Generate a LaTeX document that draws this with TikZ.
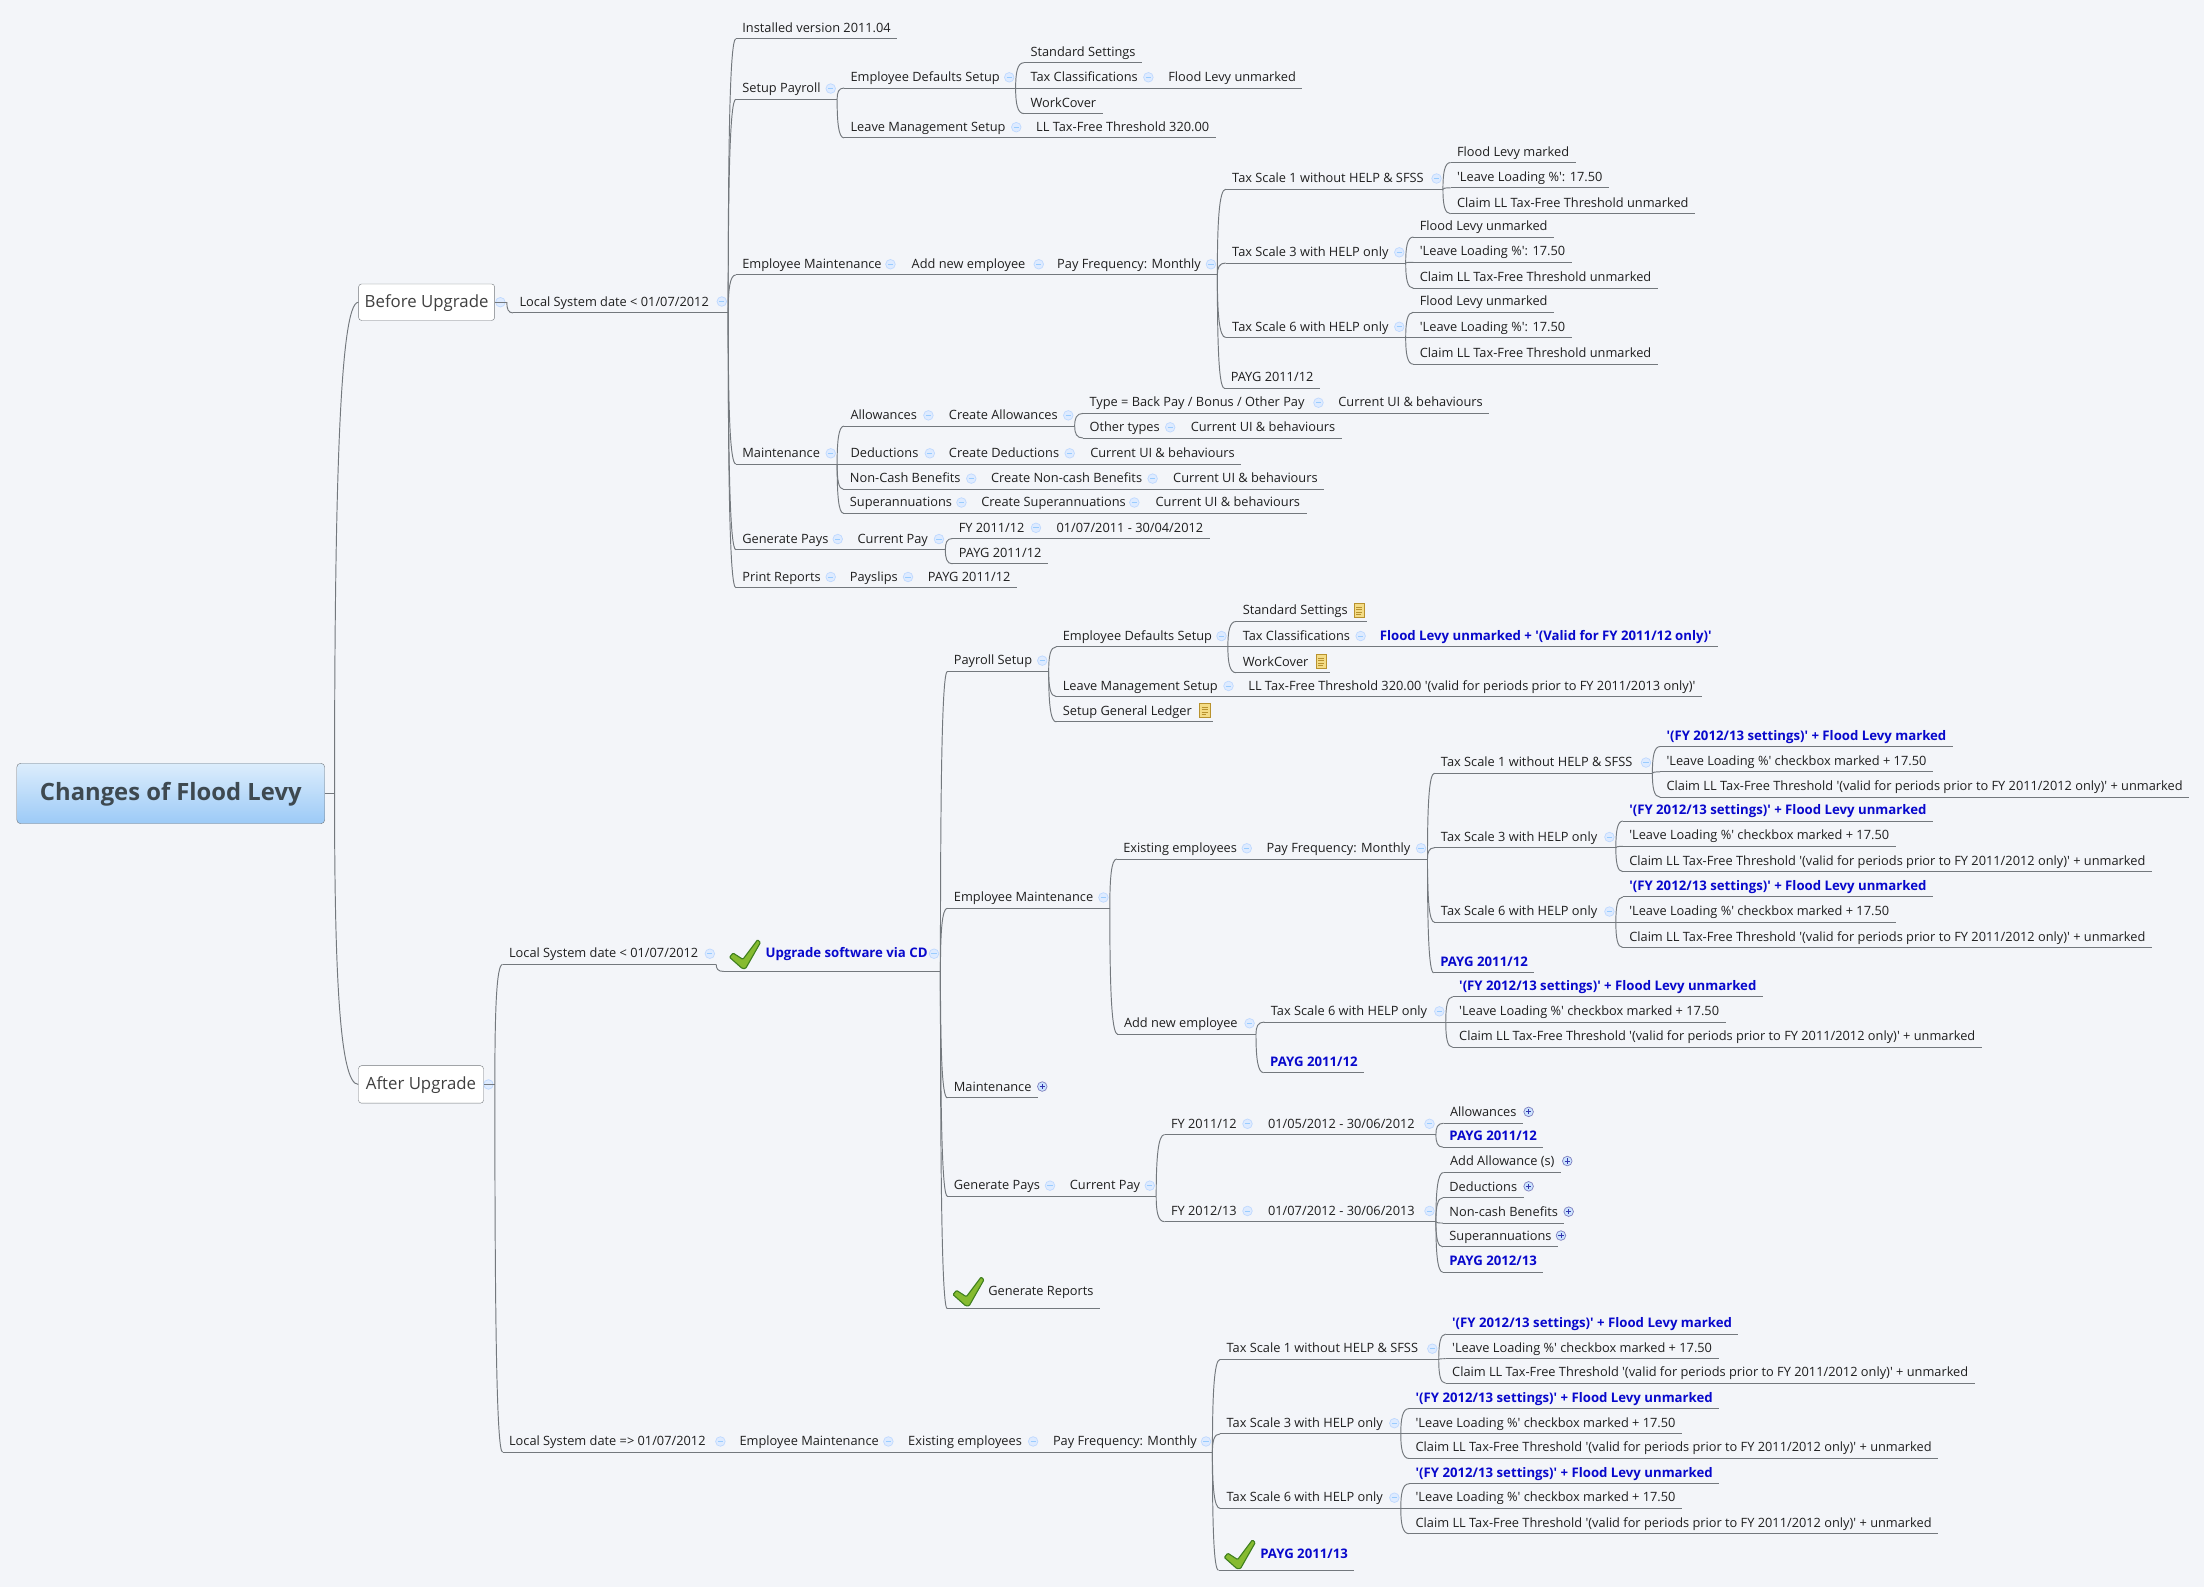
\documentclass[tikz,border=0pt]{standalone}
\usepackage{fontspec}
\setmainfont{Open Sans}[Ligatures=TeXOff]
\usetikzlibrary{calc}
\definecolor{paper}{HTML}{F3F5F9}
\definecolor{twig}{HTML}{73787D}
\definecolor{hotblue}{HTML}{0808CC}
\definecolor{rootink}{HTML}{3E4950}
\definecolor{roottop}{HTML}{DCEDFC}
\definecolor{rootbot}{HTML}{9CCAF7}
\definecolor{tickfill}{HTML}{86BB30}
\definecolor{tickedge}{HTML}{3F7F1E}
\definecolor{notefill}{HTML}{F4DC86}
\definecolor{noteedge}{HTML}{B8922E}
\tikzset{
topic/.style={
		font=\fontsize{12.8}{15}\selectfont,
		text=black!88,
		inner xsep=6.3pt,
		inner ysep=0pt,
		text height=12pt,
		text depth=2.2pt,
		minimum height=22.4pt,
		anchor=west,
		xshift=-6.3pt
	},
hottopic/.style={
		topic,
		font=\fontsize{13.2}{15}\selectfont\bfseries,
		text=hotblue
	},
bigbox/.style={
		draw=twig,
		fill=white,
		rounded corners=3pt,
		font=\fontsize{16.8}{20}\selectfont,
		text=black!75,
		text height=14pt,
		text depth=3pt,
		inner sep=0pt
	},
twigline/.style={draw=twig,line width=.95pt},
fork/.style={
		to path={let \p1=(\tikztostart),\p2=(\tikztotarget) in
			.. controls (\x1,{\y1+.6*(\y2-\y1)}) and ({\x1+.2*(\x2-\x1)},\y2) .. (\tikztotarget)}
	},
minus/.style={
		circle,
		draw=blue!60!cyan!25,
		fill=blue!60!cyan!13,
		line width=.7pt,
		minimum size=9.6pt,
		inner sep=0pt,
		outer sep=1.6pt,
		path picture={\draw[blue!50!cyan!40,line width=.8pt] ([xshift=-2.6pt]path picture bounding box.center) -- ([xshift=2.6pt]path picture bounding box.center);}
	},
plus/.style={
		circle,
		draw=blue!50!black!50,
		fill=blue!50!cyan!20,
		line width=.7pt,
		minimum size=9.6pt,
		inner sep=0pt,
		outer sep=1.6pt,
		path picture={\draw[blue!60!black!80,line width=.8pt]
			([xshift=-2.6pt]path picture bounding box.center) -- ([xshift=2.6pt]path picture bounding box.center)
			([yshift=-2.6pt]path picture bounding box.center) -- ([yshift=2.6pt]path picture bounding box.center);}
	},
notepad/.style={
		rectangle,
		draw=noteedge,
		fill=notefill,
		line width=.7pt,
		minimum width=10.5pt,
		minimum height=14pt,
		inner sep=0pt,
		outer sep=3pt,
		path picture={\draw[noteedge,line width=.7pt,shift={(path picture bounding box.center)}]
			(-3pt,3.5pt) -- (3pt,3.5pt) (-3pt,1pt) -- (3pt,1pt) (-3pt,-1.5pt) -- (3pt,-1.5pt) (-3pt,-4pt) -- (1.5pt,-4pt);}
	},
tick/.style={
		rectangle,
		inner sep=0pt,
		minimum width=42pt,
		minimum height=36pt,
		path picture={\filldraw[shift={(path picture bounding box.center)},draw=tickedge,fill=tickfill,line width=1.1pt,rounded corners=1pt]
			(9,-10.5) -- (11,-8.5) -- (.5,10) -- (-2,10) -- (-11,2) -- (-8.5,-1) -- (-1.5,3.5) -- cycle;}
	}
}

\begin{document}
\begin{tikzpicture}[x=1.4056pt,y=-1.4056pt]
\useasboundingbox[fill=paper] (0,0) rectangle (1568,1129);

% the three big boxes
\node[draw=twig,rounded corners=4pt,top color=roottop,bottom color=rootbot,minimum width=308pt,minimum height=60.5pt,font=\fontsize{23.8}{26}\selectfont\bfseries,text=rootink,text height=18.5pt,text depth=4.5pt] (root) at (121.5,564.5) {Changes of Flood Levy};
\coordinate (rootfork) at (238,564.5);
\node[bigbox,minimum width=136pt,minimum height=36.5pt] (before) at (303.5,215) {Before Upgrade};
\node[minus] (before-i) at (356,215) {};
\node[bigbox,minimum width=125pt,minimum height=37.5pt] (after) at (299.5,771.5) {After Upgrade};
\node[minus] (after-i) at (347.5,771.5) {};

% before upgrade
\node[topic] (lsdb) at (369.5,214.5) {Local System date < 01/07/2012};
\node[minus] (lsdb-i) at (513.5,214.5) {};
\node[topic] (inst) at (528,19.5) {Installed version 2011.04};
\node[topic] (setup) at (528,62.5) {Setup Payroll};
\node[minus] (setup-i) at (591,63) {};
\node[topic] (empdef) at (605,54.5) {Employee Defaults Setup};
\node[minus] (empdef-i) at (718,55) {};
\node[topic] (stdset) at (733,36.5) {Standard Settings};
\node[topic] (taxcl) at (733,54.5) {Tax Classifications};
\node[minus] (taxcl-i) at (817,55) {};
\node[topic] (fluA) at (831,54.5) {Flood Levy unmarked};
\node[topic] (wc) at (733,72.7) {WorkCover};
\node[topic] (leave) at (605,90) {Leave Management Setup};
\node[minus] (leave-i) at (723,90.5) {};
\node[topic] (lltA) at (737,90) {LL Tax-Free Threshold 320.00};
\node[topic] (empm) at (528,187.5) {Employee Maintenance};
\node[minus] (empm-i) at (633.5,188) {};
\node[topic] (addnew) at (648.5,187.5) {Add new employee};
\node[minus] (addnew-i) at (739,188) {};
\node[topic] (payf) at (752,187.5) {Pay Frequency: Monthly};
\node[minus] (payf-i) at (861.5,188) {};
\node[topic] (tsa) at (876.5,126.5) {Tax Scale 1 without HELP \& SFSS};
\node[minus] (tsa-i) at (1022,127) {};
\node[topic] (fma) at (1036.5,107.5) {Flood Levy marked};
\node[topic] (lla) at (1036.5,125.5) {'Leave Loading \%': 17.50};
\node[topic] (cla) at (1036.5,144) {Claim LL Tax-Free Threshold unmarked};
\node[topic] (tsb) at (876.5,179) {Tax Scale 3 with HELP only};
\node[minus] (tsb-i) at (995.5,179.5) {};
\node[topic] (fub) at (1010,160.5) {Flood Levy unmarked};
\node[topic] (llb) at (1010,178.5) {'Leave Loading \%': 17.50};
\node[topic] (clb) at (1010,197) {Claim LL Tax-Free Threshold unmarked};
\node[topic] (tsc) at (876.5,232) {Tax Scale 6 with HELP only};
\node[minus] (tsc-i) at (995.5,232.5) {};
\node[topic] (fuc) at (1010,214) {Flood Levy unmarked};
\node[topic] (llc) at (1010,232) {'Leave Loading \%': 17.50};
\node[topic] (clc) at (1010,251) {Claim LL Tax-Free Threshold unmarked};
\node[topic] (paygA) at (875.5,268) {PAYG 2011/12};
\node[topic] (maint) at (528,322) {Maintenance};
\node[minus] (maint-i) at (591,322.5) {};
\node[topic] (allow) at (605,295) {Allowances};
\node[minus] (allow-i) at (660.5,295.5) {};
\node[topic] (crallow) at (675,295) {Create Allowances};
\node[minus] (crallow-i) at (760,295.5) {};
\node[topic] (typeb) at (775,286) {Type = Back Pay / Bonus / Other Pay};
\node[minus] (typeb-i) at (938,286.5) {};
\node[topic] (cuia) at (952,286) {Current UI \& behaviours};
\node[topic] (other) at (775,303.5) {Other types};
\node[minus] (other-i) at (832.5,304) {};
\node[topic] (cuib) at (847,303.5) {Current UI \& behaviours};
\node[topic] (ded) at (605,322) {Deductions};
\node[minus] (ded-i) at (661.5,322.5) {};
\node[topic] (crded) at (675,322) {Create Deductions};
\node[minus] (crded-i) at (761,322.5) {};
\node[topic] (cuic) at (775.5,322) {Current UI \& behaviours};
\node[topic] (noncash) at (604.5,340) {Non-Cash Benefits};
\node[minus] (noncash-i) at (691,340.5) {};
\node[topic] (crnon) at (705,340) {Create Non-cash Benefits};
\node[minus] (crnon-i) at (820,340.5) {};
\node[topic] (cuid) at (834.5,340) {Current UI \& behaviours};
\node[topic] (super) at (604.5,357) {Superannuations};
\node[minus] (super-i) at (684,357.5) {};
\node[topic] (crsuper) at (698,357) {Create Superannuations};
\node[minus] (crsuper-i) at (807,357.5) {};
\node[topic] (cuie) at (822,357) {Current UI \& behaviours};
\node[topic] (genp) at (528,383) {Generate Pays};
\node[minus] (genp-i) at (596,383.5) {};
\node[topic] (curp) at (610,383) {Current Pay};
\node[minus] (curp-i) at (668,383.5) {};
\node[topic] (fyA) at (682,375) {FY 2011/12};
\node[minus] (fyA-i) at (737,375.5) {};
\node[topic] (datesA) at (751.5,375) {01/07/2011 - 30/04/2012};
\node[topic] (paygB) at (682,393) {PAYG 2011/12};
\node[topic] (print) at (528,410) {Print Reports};
\node[minus] (print-i) at (591,410.5) {};
\node[topic] (slips) at (604.5,410) {Payslips};
\node[minus] (slips-i) at (646,410.5) {};
\node[topic] (paygC) at (660,410) {PAYG 2011/12};

% after upgrade, system date before the cut
\node[topic] (lsda) at (362,678) {Local System date < 01/07/2012};
\node[minus] (lsda-i) at (505,678.5) {};
\node[tick] (upg-i) at (530,679) {};
\node[hottopic,minimum height=36.5pt] (upg) at (544.5,678) {Upgrade software via CD};
\node[minus] (upgm-i) at (664.5,678.5) {};
\node[topic] (apay) at (678.5,469.5) {Payroll Setup};
\node[minus] (apay-i) at (741.5,470) {};
\node[topic] (adef) at (756,452) {Employee Defaults Setup};
\node[minus] (adef-i) at (869,452.5) {};
\node[topic] (astd) at (884,434) {Standard Settings};
\node[notepad] (astd-i) at (967,434.5) {};
\node[topic] (atax) at (884,452) {Tax Classifications};
\node[minus] (atax-i) at (968,452.5) {};
\node[hottopic] (aflu) at (981.5,452) {Flood Levy unmarked + '(Valid for FY 2011/12 only)'};
\node[topic] (awc) at (884,470.5) {WorkCover};
\node[notepad] (awc-i) at (940,470.5) {};
\node[topic] (aleave) at (756,487.5) {Leave Management Setup};
\node[minus] (aleave-i) at (874,488) {};
\node[topic] (allt) at (888,487.5) {LL Tax-Free Threshold 320.00 '(valid for periods prior to FY 2011/2013 only)'};
\node[topic] (agl) at (756,505.5) {Setup General Ledger};
\node[notepad] (agl-i) at (857,505.5) {};
\node[topic] (aemp) at (678.5,638) {Employee Maintenance};
\node[minus] (aemp-i) at (785,638.5) {};
\node[topic] (aexist) at (799,603) {Existing employees};
\node[minus] (aexist-i) at (887,603.5) {};
\node[topic] (apayf) at (901,603) {Pay Frequency: Monthly};
\node[minus] (apayf-i) at (1011,603.5) {};
\node[topic] (atsa) at (1025,542) {Tax Scale 1 without HELP \& SFSS};
\node[minus] (atsa-i) at (1171,542.5) {};
\node[hottopic] (afma) at (1185.5,523) {'(FY 2012/13 settings)' + Flood Levy marked};
\node[topic] (alla) at (1185.5,541) {'Leave Loading \%' checkbox marked + 17.50};
\node[topic] (acla) at (1185.5,559) {Claim LL Tax-Free Threshold '(valid for periods prior to FY 2011/2012 only)' + unmarked};
\node[topic] (atsb) at (1025,595) {Tax Scale 3 with HELP only};
\node[minus] (atsb-i) at (1145,595.5) {};
\node[hottopic] (afub) at (1159,576) {'(FY 2012/13 settings)' + Flood Levy unmarked};
\node[topic] (allb) at (1159,594) {'Leave Loading \%' checkbox marked + 17.50};
\node[topic] (aclb) at (1159,612) {Claim LL Tax-Free Threshold '(valid for periods prior to FY 2011/2012 only)' + unmarked};
\node[topic] (atsc) at (1025,648) {Tax Scale 6 with HELP only};
\node[minus] (atsc-i) at (1145,648.5) {};
\node[hottopic] (afuc) at (1159,630) {'(FY 2012/13 settings)' + Flood Levy unmarked};
\node[topic] (allc) at (1159,648) {'Leave Loading \%' checkbox marked + 17.50};
\node[topic] (aclc) at (1159,666) {Claim LL Tax-Free Threshold '(valid for periods prior to FY 2011/2012 only)' + unmarked};
\node[hottopic] (apaygA) at (1024.5,684) {PAYG 2011/12};
\node[topic] (anew) at (799.5,727.5) {Add new employee};
\node[minus] (anew-i) at (889,728) {};
\node[topic] (atsd) at (904,719) {Tax Scale 6 with HELP only};
\node[minus] (atsd-i) at (1024,719.5) {};
\node[hottopic] (afud) at (1038,701) {'(FY 2012/13 settings)' + Flood Levy unmarked};
\node[topic] (alld) at (1038,719) {'Leave Loading \%' checkbox marked + 17.50};
\node[topic] (acld) at (1038,737) {Claim LL Tax-Free Threshold '(valid for periods prior to FY 2011/2012 only)' + unmarked};
\node[hottopic] (apaygB) at (903.5,755) {PAYG 2011/12};
\node[topic] (amaint) at (678.5,773) {Maintenance};
\node[plus] (amaint-i) at (741.5,773) {};
\node[topic] (agenp) at (678.5,843) {Generate Pays};
\node[minus] (agenp-i) at (747,843.5) {};
\node[topic] (acurp) at (761,843) {Current Pay};
\node[minus] (acurp-i) at (818,843.5) {};
\node[topic] (afyA) at (833,799) {FY 2011/12};
\node[minus] (afyA-i) at (887.5,799.5) {};
\node[topic] (adatA) at (902,799) {01/05/2012 - 30/06/2012};
\node[minus] (adatA-i) at (1017,799.5) {};
\node[topic] (aalw) at (1031.5,791) {Allowances};
\node[plus] (aalw-i) at (1087.5,791) {};
\node[hottopic] (apaygC) at (1031,808) {PAYG 2011/12};
\node[topic] (afyB) at (833,861) {FY 2012/13};
\node[minus] (afyB-i) at (887.5,861.5) {};
\node[topic] (adatB) at (902,861) {01/07/2012 - 30/06/2013};
\node[minus] (adatB-i) at (1017,861.5) {};
\node[topic] (aadd) at (1031.5,826) {Add Allowance (s)};
\node[plus] (aadd-i) at (1115,826) {};
\node[topic] (aded) at (1031,844) {Deductions};
\node[plus] (aded-i) at (1087.5,844) {};
\node[topic] (anon) at (1031,862) {Non-cash Benefits};
\node[plus] (anon-i) at (1116,862) {};
\node[topic] (asup) at (1031,879) {Superannuations};
\node[plus] (asup-i) at (1110.5,879) {};
\node[hottopic] (apaygD) at (1031,897) {PAYG 2012/13};
\node[tick] (arep-i) at (689,919) {};
\node[topic,minimum height=36.5pt] (arep) at (703,918) {Generate Reports};

% after upgrade, system date past the cut
\node[topic] (lsdc) at (362,1025) {Local System date => 01/07/2012};
\node[minus] (lsdc-i) at (512.5,1025.5) {};
\node[topic] (cemp) at (526,1025) {Employee Maintenance};
\node[minus] (cemp-i) at (632,1025.5) {};
\node[topic] (cexist) at (646,1025) {Existing employees};
\node[minus] (cexist-i) at (735,1025.5) {};
\node[topic] (cpayf) at (749,1025) {Pay Frequency: Monthly};
\node[minus] (cpayf-i) at (858,1025.5) {};
\node[topic] (ctsa) at (872.5,959) {Tax Scale 1 without HELP \& SFSS};
\node[minus] (ctsa-i) at (1019,959.5) {};
\node[hottopic] (cfma) at (1033,941) {'(FY 2012/13 settings)' + Flood Levy marked};
\node[topic] (clla) at (1033,958.5) {'Leave Loading \%' checkbox marked + 17.50};
\node[topic] (ccla) at (1033,976) {Claim LL Tax-Free Threshold '(valid for periods prior to FY 2011/2012 only)' + unmarked};
\node[topic] (ctsb) at (872.5,1012) {Tax Scale 3 with HELP only};
\node[minus] (ctsb-i) at (992,1012.5) {};
\node[hottopic] (cfub) at (1007,994) {'(FY 2012/13 settings)' + Flood Levy unmarked};
\node[topic] (cllb) at (1007,1012) {'Leave Loading \%' checkbox marked + 17.50};
\node[topic] (cclb) at (1007,1029.5) {Claim LL Tax-Free Threshold '(valid for periods prior to FY 2011/2012 only)' + unmarked};
\node[topic] (ctsc) at (872.5,1065) {Tax Scale 6 with HELP only};
\node[minus] (ctsc-i) at (992,1065.5) {};
\node[hottopic] (cfuc) at (1007,1047.5) {'(FY 2012/13 settings)' + Flood Levy unmarked};
\node[topic] (cllc) at (1007,1065) {'Leave Loading \%' checkbox marked + 17.50};
\node[topic] (cclc) at (1007,1083) {Claim LL Tax-Free Threshold '(valid for periods prior to FY 2011/2012 only)' + unmarked};
\node[tick] (cpayg-i) at (882,1106) {};
\node[hottopic,minimum height=33.7pt] (cpayg) at (896.5,1105) {PAYG 2011/13};

% connectors
\draw[twigline] (root.east) -- (rootfork);
\draw[twigline] (rootfork) to[fork] (before.west);
\draw[twigline] (rootfork) to[fork] (after.west);
\draw[twigline] (before.east) -- (before-i.east);
\draw[twigline] (after.east) -- (after-i.east);
\draw[twigline] (before-i.east) to[fork] (lsdb.south west);
\draw[twigline] (after-i.east) to[fork] (lsda.south west);
\draw[twigline] (after-i.east) to[fork] (lsdc.south west);
\draw[twigline] (lsda-i.east |- lsda.south) to[fork] (upg-i.west |- upg.south);
\draw[twigline] (upg-i.west |- upg.south) -- (upgm-i.east |- upg.south);
\foreach \to in {apay,aemp,amaint,agenp}
	\draw[twigline] (upgm-i.east |- upg.south) to[fork] (\to.south west);
\draw[twigline] (upgm-i.east |- upg.south) to[fork] (arep-i.west |- arep.south);
\draw[twigline] (arep-i.west |- arep.south) -- (arep.south east);
\draw[twigline] (cpayf-i.east |- cpayf.south) to[fork] (cpayg-i.west |- cpayg.south);
\draw[twigline] (cpayg-i.west |- cpayg.south) -- (cpayg.south east);

% topics running on in one line
\foreach \from/\to in {empm/addnew,addnew/payf,taxcl/fluA,leave/lltA,allow/crallow,ded/crded,crded/cuic,
	noncash/crnon,crnon/cuid,super/crsuper,crsuper/cuie,typeb/cuia,other/cuib,genp/curp,print/slips,slips/paygC,
	fyA/datesA,atax/aflu,aleave/allt,aexist/apayf,agenp/acurp,afyA/adatA,afyB/adatB,
	lsdc/cemp,cemp/cexist,cexist/cpayf}
	\draw[twigline] (\from.south west) -- (\to.south west);

% underlines of the end topics
\foreach \n in {inst,stdset,fluA,wc,lltA,fma,lla,cla,fub,llb,clb,fuc,llc,clc,paygA,cuia,cuib,cuic,cuid,cuie,
	datesA,paygB,paygC,aflu,allt,afma,alla,acla,afub,allb,aclb,afuc,allc,aclc,apaygA,afud,alld,acld,apaygB,
	apaygC,apaygD,cfma,clla,ccla,cfub,cllb,cclb,cfuc,cllc,cclc,amaint,aalw,aadd,aded,anon,asup}
	\draw[twigline] (\n.south west) -- (\n.south east);

% underlines up to the topic's own icon
\foreach \n in {lsdb,setup,empdef,tsa,tsb,tsc,maint,crallow,curp,apay,adef,aemp,apayf,atsa,atsb,atsc,atsd,anew,
	adatA,adatB,acurp,astd,awc,agl,payf,lsda,ctsa,ctsb,ctsc,cpayf}
	\draw[twigline] (\n.south west) -- (\n-i.east |- \n.south);

% forks
\foreach \from/\to in {lsdb/inst,lsdb/setup,lsdb/empm,lsdb/maint,lsdb/genp,lsdb/print,
	setup/empdef,setup/leave,empdef/stdset,empdef/taxcl,empdef/wc,
	payf/tsa,payf/tsb,payf/tsc,payf/paygA,tsa/fma,tsa/lla,tsa/cla,tsb/fub,tsb/llb,tsb/clb,tsc/fuc,tsc/llc,tsc/clc,
	maint/allow,maint/ded,maint/noncash,maint/super,crallow/typeb,crallow/other,curp/fyA,curp/paygB,
	apay/adef,apay/aleave,apay/agl,adef/astd,adef/atax,adef/awc,aemp/aexist,aemp/anew,
	apayf/atsa,apayf/atsb,apayf/atsc,apayf/apaygA,atsa/afma,atsa/alla,atsa/acla,atsb/afub,atsb/allb,atsb/aclb,
	atsc/afuc,atsc/allc,atsc/aclc,anew/atsd,anew/apaygB,atsd/afud,atsd/alld,atsd/acld,
	acurp/afyA,acurp/afyB,adatA/aalw,adatA/apaygC,adatB/aadd,adatB/aded,adatB/anon,adatB/asup,adatB/apaygD,
	cpayf/ctsa,cpayf/ctsb,cpayf/ctsc,ctsa/cfma,ctsa/clla,ctsa/ccla,ctsb/cfub,ctsb/cllb,ctsb/cclb,ctsc/cfuc,ctsc/cllc,ctsc/cclc}
	\draw[twigline] (\from-i.east |- \from.south) to[fork] (\to.south west);
\end{tikzpicture}
\end{document}
